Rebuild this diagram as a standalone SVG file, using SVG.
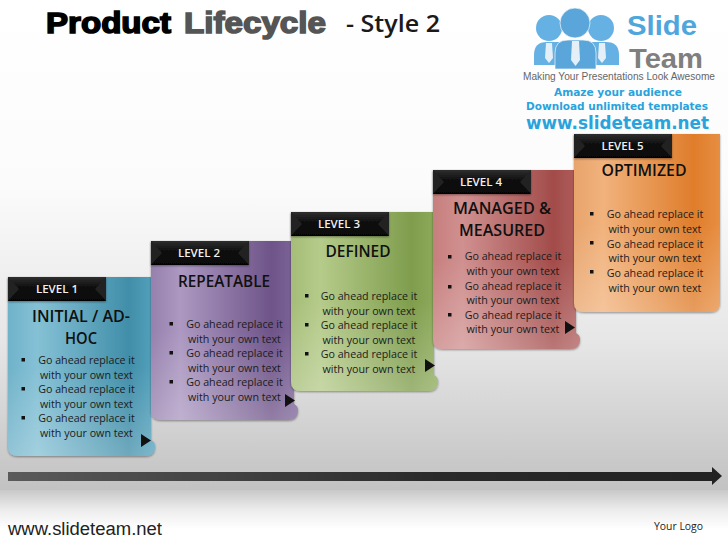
<svg xmlns="http://www.w3.org/2000/svg" width="728" height="546" viewBox="0 0 728 546">
<style>
.lv{font:600 11.500px "Open Sans","Noto Sans",sans-serif;fill:#f0f0f0;text-anchor:middle}
.tt{font:600 15.500px "Open Sans","Noto Sans",sans-serif;fill:#101010;text-anchor:middle}
.bd{font:10.700px "Open Sans","Noto Sans",sans-serif;fill:#1c1c1c;text-anchor:middle}
.bu{fill:#111}
.ar{fill:#111}
.sh{filter:url(#sd)}
.lb{fill:url(#black)}
</style>
<defs>
<linearGradient id="bg" x1="0" y1="0" x2="0" y2="1">
<stop offset="0" stop-color="#fff"/><stop offset=".38" stop-color="#fbfbfb"/><stop offset=".7" stop-color="#e6e6e6"/><stop offset="1" stop-color="#c2c2c2"/>
</linearGradient>
<linearGradient id="bg2" x1="0" y1="0" x2="0" y2="1">
<stop offset="0" stop-color="#c8c8c8"/><stop offset=".35" stop-color="#ececec"/><stop offset=".7" stop-color="#fff"/>
</linearGradient>
<linearGradient id="black" x1="0" y1="0" x2="0" y2="1">
<stop offset="0" stop-color="#2e2e2e"/><stop offset=".4" stop-color="#111"/><stop offset="1" stop-color="#050505"/>
</linearGradient>
<linearGradient id="c1" x1="0" y1="0" x2="1" y2="0"><stop offset="0" stop-color="#6fb2c9"/><stop offset=".2" stop-color="#85c1d5"/><stop offset=".82" stop-color="#418ea9"/><stop offset="1" stop-color="#55a2bd"/></linearGradient>
<linearGradient id="c2" x1="0" y1="0" x2="1" y2="0"><stop offset="0" stop-color="#9680ad"/><stop offset=".2" stop-color="#ac98c1"/><stop offset=".82" stop-color="#6e5489"/><stop offset="1" stop-color="#7f679a"/></linearGradient>
<linearGradient id="c3" x1="0" y1="0" x2="1" y2="0"><stop offset="0" stop-color="#a5bd78"/><stop offset=".2" stop-color="#b5cb8a"/><stop offset=".82" stop-color="#7f9d4d"/><stop offset="1" stop-color="#8fac5d"/></linearGradient>
<linearGradient id="c4" x1="0" y1="0" x2="1" y2="0"><stop offset="0" stop-color="#c67f7d"/><stop offset=".2" stop-color="#d09090"/><stop offset=".82" stop-color="#a24c4a"/><stop offset="1" stop-color="#b0605e"/></linearGradient>
<linearGradient id="c5" x1="0" y1="0" x2="1" y2="0"><stop offset="0" stop-color="#e8a46b"/><stop offset=".2" stop-color="#f1b27c"/><stop offset=".82" stop-color="#df7d2b"/><stop offset="1" stop-color="#e78e42"/></linearGradient>
<linearGradient id="lt" x1="0" y1="0" x2="0" y2="1"><stop offset="0" stop-color="#fff" stop-opacity="0"/><stop offset=".5" stop-color="#fff" stop-opacity="0"/><stop offset="1" stop-color="#fff" stop-opacity=".24"/></linearGradient>
<linearGradient id="barg" x1="0" y1="0" x2="1" y2="0"><stop offset="0" stop-color="#5a5a5a"/><stop offset=".6" stop-color="#2a2a2a"/><stop offset="1" stop-color="#222"/></linearGradient>
<filter id="sd" x="-10%" y="-10%" width="120%" height="120%"><feDropShadow dx="0" dy="1" stdDeviation="1.3" flood-color="#000" flood-opacity=".4"/></filter>
<path id="card" d="M0 0H143V163Q147 165 147 169V170Q147 179 137 179H10Q0 179 0 170Z"/>
<path id="label" d="M0 0H98V24H0Z"/>
<g id="lab"><use href="#label" class="lb"/><path d="M0 0L11 12L0 24Z M98 0L87 12L98 24Z" fill="#222"/></g>
<path id="tri" d="M0 0L10 6.500L0 13Z"/>
</defs>
<rect width="728" height="490" fill="url(#bg)"/>
<rect y="490" width="728" height="56" fill="url(#bg2)"/>

<g id="title">
<text x="46" y="33" font-family="Liberation Sans,sans-serif" font-weight="bold" font-size="29" fill="#000" stroke="#000" stroke-width="1.500" textLength="125" lengthAdjust="spacingAndGlyphs">Product</text>
<text x="184" y="33" font-family="Liberation Sans,sans-serif" font-weight="bold" font-size="29" fill="#555" stroke="#555" stroke-width="1.500" textLength="142" lengthAdjust="spacingAndGlyphs">Lifecycle</text>
<text x="346" y="32" font-family="Open Sans,Noto Sans,sans-serif" font-weight="600" font-size="24" fill="#1a1a1a" textLength="94" lengthAdjust="spacingAndGlyphs">- Style 2</text>
</g>

<g id="logo">
<g fill="#66b1e3">
<circle cx="549" cy="28" r="13"/><circle cx="601" cy="28" r="13"/>
<path d="M534 65V55Q534 42 547 42H560Q570 42 570 55V65Z"/>
<path d="M582 65V55Q582 42 592 42H606Q619 42 619 55V65Z"/>
</g>
<circle cx="575" cy="23" r="15" fill="#5aa6da" stroke="#f4f8fb" stroke-width=".7"/>
<path d="M555 69V53Q555 40 568 40H583Q596 40 596 53V69Z" fill="#5aa6da" stroke="#f4f8fb" stroke-width=".7"/>
<g fill="#e4eff8">
<path d="M546 43H552L553 58L549 63L545 58Z"/>
<path d="M572 41H579L580 60L575.500 66L571 60Z"/>
<path d="M599 43H605L606 58L602 63L598 58Z"/>
</g>
<text x="627" y="35" font-family="Liberation Sans,sans-serif" font-weight="bold" font-size="27" fill="#4fa6dc" textLength="70" lengthAdjust="spacingAndGlyphs">Slide</text>
<text x="629" y="68" font-family="Liberation Sans,sans-serif" font-weight="bold" font-size="27" fill="#7f7f7f" textLength="74" lengthAdjust="spacingAndGlyphs">Team</text>
<text x="523" y="80" font-family="Liberation Sans,sans-serif" font-size="11" fill="#666" textLength="192" lengthAdjust="spacingAndGlyphs">Making Your Presentations Look Awesome</text>
<text x="554" y="96" font-family="DejaVu Sans,sans-serif" font-weight="bold" font-size="11" fill="#2aa3dc" textLength="128" lengthAdjust="spacingAndGlyphs">Amaze your audience</text>
<text x="526" y="110" font-family="DejaVu Sans,sans-serif" font-weight="bold" font-size="11" fill="#2aa3dc" textLength="182" lengthAdjust="spacingAndGlyphs">Download unlimited templates</text>
<text x="526" y="129" font-family="DejaVu Sans,sans-serif" font-weight="bold" font-size="17" fill="#2aa3dc" textLength="183" lengthAdjust="spacingAndGlyphs">www.slideteam.net</text>
</g>

<g id="node1" transform="translate(8 277)">
<use href="#card" fill="url(#c1)" class="sh"/><use href="#card" fill="url(#lt)"/>
<use href="#lab" class="sh"/>
<text x="49" y="16" class="lv">LEVEL 1</text>
<text x="73" y="45" class="tt" textLength="98" lengthAdjust="spacingAndGlyphs">INITIAL / AD-</text><text x="73" y="67" class="tt" textLength="32" lengthAdjust="spacingAndGlyphs">HOC</text>
<g transform="translate(-8 -277)">
<rect x="21.500" y="358" width="3.500" height="3.500" class="bu"/><rect x="21.500" y="387" width="3.500" height="3.500" class="bu"/><rect x="21.500" y="416" width="3.500" height="3.500" class="bu"/>
<text x="86.500" y="364" class="bd">Go ahead replace it</text><text x="86.500" y="379" class="bd">with your own text</text>
<text x="86.500" y="393" class="bd">Go ahead replace it</text><text x="86.500" y="408" class="bd">with your own text</text>
<text x="86.500" y="422" class="bd">Go ahead replace it</text><text x="86.500" y="437" class="bd">with your own text</text>
<use href="#tri" x="141" y="434" class="ar"/>
</g>
</g>

<g id="node2" transform="translate(151 241)">
<use href="#card" fill="url(#c2)" class="sh"/><use href="#card" fill="url(#lt)"/>
<use href="#lab" class="sh"/>
<text x="48" y="16" class="lv">LEVEL 2</text>
<text x="73" y="46" class="tt" textLength="92" lengthAdjust="spacingAndGlyphs">REPEATABLE</text>
<g transform="translate(-151 -241)">
<rect x="169.500" y="322" width="3.500" height="3.500" class="bu"/><rect x="169.500" y="351" width="3.500" height="3.500" class="bu"/><rect x="169.500" y="380" width="3.500" height="3.500" class="bu"/>
<text x="234.500" y="328" class="bd">Go ahead replace it</text><text x="234.500" y="343" class="bd">with your own text</text>
<text x="234.500" y="357" class="bd">Go ahead replace it</text><text x="234.500" y="372" class="bd">with your own text</text>
<text x="234.500" y="386" class="bd">Go ahead replace it</text><text x="234.500" y="401" class="bd">with your own text</text>
<use href="#tri" x="285" y="394" class="ar"/>
</g>
</g>

<g id="node3" transform="translate(291 212)">
<use href="#card" fill="url(#c3)" class="sh"/><use href="#card" fill="url(#lt)"/>
<use href="#lab" class="sh"/>
<text x="48" y="16" class="lv">LEVEL 3</text>
<text x="67" y="45" class="tt" textLength="65" lengthAdjust="spacingAndGlyphs">DEFINED</text>
<g transform="translate(-291 -212)">
<rect x="305" y="294" width="3.500" height="3.500" class="bu"/><rect x="305" y="323" width="3.500" height="3.500" class="bu"/><rect x="305" y="352" width="3.500" height="3.500" class="bu"/>
<text x="369" y="300" class="bd">Go ahead replace it</text><text x="369" y="315" class="bd">with your own text</text>
<text x="369" y="329" class="bd">Go ahead replace it</text><text x="369" y="344" class="bd">with your own text</text>
<text x="369" y="358" class="bd">Go ahead replace it</text><text x="369" y="373" class="bd">with your own text</text>
<use href="#tri" x="425" y="359" class="ar"/>
</g>
</g>

<g id="node4" transform="translate(433 170)">
<use href="#card" fill="url(#c4)" class="sh"/><use href="#card" fill="url(#lt)"/>
<use href="#lab" class="sh"/>
<text x="48" y="16" class="lv">LEVEL 4</text>
<text x="69" y="44" class="tt" textLength="98" lengthAdjust="spacingAndGlyphs">MANAGED &amp;</text><text x="69" y="66" class="tt" textLength="86" lengthAdjust="spacingAndGlyphs">MEASURED</text>
<g transform="translate(-433 -170)">
<rect x="448" y="255" width="3.500" height="3.500" class="bu"/><rect x="448" y="285" width="3.500" height="3.500" class="bu"/><rect x="448" y="313" width="3.500" height="3.500" class="bu"/>
<text x="513" y="260" class="bd">Go ahead replace it</text><text x="513" y="275" class="bd">with your own text</text>
<text x="513" y="290" class="bd">Go ahead replace it</text><text x="513" y="304" class="bd">with your own text</text>
<text x="513" y="319" class="bd">Go ahead replace it</text><text x="513" y="333" class="bd">with your own text</text>
<use href="#tri" x="565" y="321" class="ar"/>
</g>
</g>

<g id="node5" transform="translate(574 134)">
<path d="M0 0H146V169Q146 178 136 178H10Q0 178 0 169Z" fill="url(#c5)" class="sh"/><path d="M0 0H146V169Q146 178 136 178H10Q0 178 0 169Z" fill="url(#lt)"/>
<use href="#lab" class="sh"/>
<text x="48.500" y="16" class="lv">LEVEL 5</text>
<text x="70" y="42" class="tt" textLength="85" lengthAdjust="spacingAndGlyphs">OPTIMIZED</text>
<g transform="translate(-574 -134)">
<rect x="590" y="212" width="3.500" height="3.500" class="bu"/><rect x="590" y="241" width="3.500" height="3.500" class="bu"/><rect x="590" y="270" width="3.500" height="3.500" class="bu"/>
<text x="655" y="218" class="bd">Go ahead replace it</text><text x="655" y="233" class="bd">with your own text</text>
<text x="655" y="248" class="bd">Go ahead replace it</text><text x="655" y="262" class="bd">with your own text</text>
<text x="655" y="277" class="bd">Go ahead replace it</text><text x="655" y="292" class="bd">with your own text</text>
</g>
</g>

<g id="connectors">
<path d="M8 472H712V467L722 476L712 485V481H8Z" fill="url(#barg)"/>
</g>

<g id="footer">
<text x="8" y="535" font-family="Liberation Sans,sans-serif" font-size="18" fill="#222" textLength="154" lengthAdjust="spacingAndGlyphs">www.slideteam.net</text>
<text x="654" y="530" font-family="Open Sans,Noto Sans,sans-serif" font-size="11" fill="#222" textLength="49" lengthAdjust="spacingAndGlyphs">Your Logo</text>
</g>
</svg>
